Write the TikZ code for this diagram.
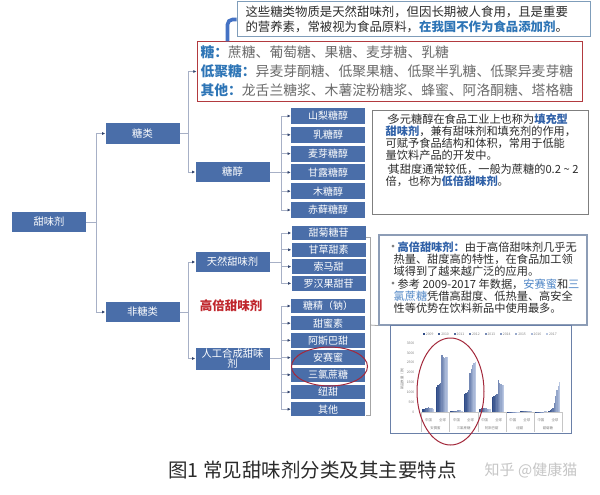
\documentclass[tikz,border=0pt]{standalone}
\usepackage{fontspec}
\setmainfont{Noto Sans CJK SC}
\usepackage{tikz}
\usetikzlibrary{arrows.meta}
\definecolor{boxBlue}{HTML}{4A6EA9}
\definecolor{lineGray}{HTML}{A7B0C6}
\definecolor{tipDark}{HTML}{33456D}
\definecolor{noteBlue}{HTML}{2E75B6}
\definecolor{hiBlue}{HTML}{3061A8}
\definecolor{softBlue}{HTML}{4F86C6}
\definecolor{frameRed}{HTML}{B23A3F}
\definecolor{ringRed}{HTML}{A3283B}
\definecolor{hotRed}{HTML}{C0272D}
\definecolor{txtGray}{HTML}{6A6A6A}
\definecolor{txtDark}{HTML}{2B2B2B}
\definecolor{noteFrame}{HTML}{7F9DBA}
\definecolor{factFrame}{HTML}{7F7F7F}
\definecolor{hintFrame}{HTML}{8D9DB6}
\definecolor{chartFrame}{HTML}{6A80A8}
\definecolor{arrowBlue}{HTML}{4472C4}
\definecolor{barDark}{HTML}{2E4A86}
\definecolor{barLight}{HTML}{CCD8EF}
\newcommand{\bul}[1]{\makebox[#1][l]{\textcolor{gray}{\fontsize{13}{12}\selectfont •}}}
\newcommand{\lab}[1]{\textcolor{noteBlue}{\bfseries #1}}
\newcommand{\hlb}[1]{\textcolor{hiBlue}{\bfseries #1}}

\begin{document}
\begin{tikzpicture}[x=1pt, y=-1pt,
		cat/.style={rectangle, fill=boxBlue, text=white, inner sep=0pt,
			minimum width=74pt, minimum height=20pt, font=\fontsize{10.3}{11}\selectfont},
		item/.style={rectangle, fill=boxBlue, text=white, inner sep=0pt,
			minimum width=74pt, minimum height=16pt, font=\fontsize{10}{11}\selectfont},
		slim/.style={item, minimum height=14.5pt},
		link/.style={draw=lineGray, line width=0.9pt},
		tip/.style={link, -{Latex[length=3.2pt, width=3pt, color=tipDark]}},
		brk/.style={draw=gray!70, line width=0.8pt},
		ring/.style={draw=ringRed, line width=1pt},
		tiny/.style={font=\fontsize{3.4}{4}\selectfont, text=gray, inner sep=0.5pt}]
		\fill[white] (0,0) rectangle (600,495);
		\useasboundingbox (0,0) rectangle (600,495);
		%-------------------------------------------------------------------------------
		% notes on top
		%-------------------------------------------------------------------------------
		\node[draw=noteFrame, line width=1pt, fill=white, minimum width=353pt, minimum height=35pt,
			inner sep=0pt, text width=336pt, align=left, text=txtDark,
			font=\fontsize{12.4}{15.5}\selectfont] (note) at (413.5,19.5)
			{这些糖类物质是天然甜味剂，但因长期被人食用，且是重要\\的营养素，常被视为食品原料，\textcolor{noteBlue}{\bfseries 在我国不作为食品添加剂}。};
		\node[draw=frameRed, line width=1pt, fill=white, minimum width=385pt, minimum height=59pt,
			inner sep=0pt, text width=378pt, align=left, text=txtGray,
			font=\fontsize{13.8}{19}\selectfont] (sugar) at (389.5,71.5)
			{\lab{糖：}蔗糖、葡萄糖、果糖、麦芽糖、乳糖\\
			\lab{低聚糖：}异麦芽酮糖、低聚果糖、低聚半乳糖、低聚异麦芽糖\\
			\lab{其他：}龙舌兰糖浆、木薯淀粉糖浆、蜂蜜、阿洛酮糖、塔格糖};
		\draw[line width=3.6pt, arrowBlue, rounded corners=5pt] ([xshift=31pt]sugar.north west) |- (note.west);
		
		% main tree
		\node[cat] (root) at (49,222) {甜味剂};
		\node[cat, minimum height=21pt] (sug) at (142.5,133.5) {糖类};
		\node[cat] (nonsug) at (142.5,312) {非糖类};
		\node[cat] (alc) at (232.5,172) {糖醇};
		\node[cat] (nat) at (232.5,262) {天然甜味剂};
		\node[cat, minimum height=22pt, align=center, font=\fontsize{10.3}{10.6}\selectfont] (art) at (232.5,358.5) {人工合成甜味\\剂};
		\node[text=hotRed, font=\bfseries\fontsize{12.5}{14}\selectfont] (high) at (231,306) {高倍甜味剂};
		
		% sugar alcohols
		\node[item] (a1) at (328,116) {山梨糖醇};
		\node[item] (a2) at (328,134.8) {乳糖醇};
		\node[item] (a3) at (328,153.6) {麦芽糖醇};
		\node[item] (a4) at (328,172.4) {甘露糖醇};
		\node[item] (a5) at (328,191.2) {木糖醇};
		\node[item] (a6) at (328,210) {赤藓糖醇};
		% natural
		\node[slim] (n1) at (328.5,233) {甜菊糖苷};
		\node[slim] (n2) at (328.5,249.8) {甘草甜素};
		\node[slim] (n3) at (328.5,266.6) {索马甜};
		\node[slim] (n4) at (328.5,283.4) {罗汉果甜苷};
		% artificial
		\node[slim] (r1) at (328,306) {糖精（钠）};
		\node[slim] (r2) at (328,323.2) {甜蜜素};
		\node[slim] (r3) at (328,340.4) {阿斯巴甜};
		\node[slim] (r4) at (328,357.6) {安赛蜜};
		\node[slim] (r5) at (328,374.8) {三氯蔗糖};
		\node[slim] (r6) at (328,392) {纽甜};
		\node[slim] (r7) at (328,409.2) {其他};
		
		% junctions
		\coordinate (j1) at (96,222);
		\coordinate (j2) at (188,133.5);
		\coordinate (j3) at (281,172);
		\coordinate (j4) at (188,312);
		\coordinate (j5) at (281,262);
		\coordinate (j6) at (281,358.5);
		
		% connectors
		\draw[link] (root) -- (j1);
		\draw[tip] (j1) |- (sug);
		\draw[tip] (j1) |- (nonsug);
		\draw[link] (sug) -- (j2);
		\draw[tip] (j2) |- (sugar);
		\draw[tip] (j2) |- (alc);
		\draw[link] (nonsug) -- (j4);
		\draw[tip] (j4) |- (nat);
		\draw[tip] (j4) |- (art);
		\draw[link] (alc) -- (j3);
		\draw[tip] (j3) |- (a1);
		\draw[tip] (j3) |- (a2);
		\draw[tip] (j3) |- (a3);
		\draw[tip] (j3) |- (a4);
		\draw[tip] (j3) |- (a5);
		\draw[tip] (j3) |- (a6);
		\draw[link] (nat) -- (j5);
		\draw[tip] (j5) |- (n1);
		\draw[tip] (j5) |- (n2);
		\draw[tip] (j5) |- (n3);
		\draw[tip] (j5) |- (n4);
		\draw[link] (art) -- (j6);
		\draw[tip] (j6) |- (r1);
		\draw[tip] (j6) |- (r2);
		\draw[tip] (j6) |- (r3);
		\draw[tip] (j6) |- (r4);
		\draw[tip] (j6) |- (r5);
		\draw[tip] (j6) |- (r6);
		\draw[tip] (j6) |- (r7);
		
		%-------------------------------------------------------------------------------
		% text boxes
		%-------------------------------------------------------------------------------
		\node[draw=factFrame, line width=1pt, fill=white, minimum width=216pt, minimum height=104pt,
			inner sep=0pt] (fact) at (480,162) {};
		\node[anchor=north west, inner sep=0pt, align=left, text=txtDark,
			font=\fontsize{11.2}{11.9}\selectfont] (factText) at ([xshift=11pt,yshift=-4.4pt]fact.north west)
			{\bul{6pt}多元糖醇在食品工业上也称为\hlb{填充型}\\
			\hspace*{3pt}\hlb{甜味剂}，兼有甜味剂和填充剂的作用，\\
			\hspace*{3pt}可赋予食品结构和体积，常用于低能\\
			\hspace*{3pt}量饮料产品的开发中。\\[2.2pt]
			\bul{6pt}其甜度通常较低，一般为蔗糖的0.2 \textasciitilde{} 2\\
			\hspace*{3pt}倍，也称为\hlb{低倍甜味剂}。};
		\node[draw=hintFrame, line width=1.2pt, fill=white, minimum width=208pt, minimum height=90pt,
			inner sep=0pt] (hint) at (483,280) {};
		\node[anchor=north west, inner sep=0pt, align=left, text=txtDark,
			font=\fontsize{11.2}{12}\selectfont] (hintText) at ([xshift=8pt,yshift=-7.2pt]hint.north west)
			{\bul{11pt}\hlb{高倍甜味剂：}由于高倍甜味剂几乎无\\
			\hspace*{7pt}热量、甜度高的特性，在食品加工领\\
			\hspace*{7pt}域得到了越来越广泛的应用。\\[1pt]
			\bul{11pt}参考 2009-2017 年数据，\textcolor{softBlue}{安赛蜜}和\textcolor{softBlue}{三}\\
			\hspace*{7pt}\textcolor{softBlue}{氯蔗糖}凭借高甜度、低热量、高安全\\
			\hspace*{7pt}性等优势在饮料新品中使用最多。};
		
		% bracket
		\coordinate (bk) at (370,325);
		\draw[brk] (366,237) -| (370,415) -- (366,415);
		\draw[brk] (bk) -- (hint.south west);
		
		%-------------------------------------------------------------------------------
		% chart
		%-------------------------------------------------------------------------------
		\node[draw=chartFrame, line width=0.9pt, fill=white, minimum width=181pt, minimum height=108pt,
			inner sep=0pt] (chart) at (481,379) {};
		\foreach \i in {0,...,8}{
			\pgfmathtruncatemacro\p{100-11*\i}
			\pgfmathtruncatemacro\yr{2009+\i}
			\fill[barDark!\p!barLight] ({423+15.4*\i},333) rectangle ++(2,2);
			\node[tiny, anchor=west] at ({425.2+15.4*\i},334) {\yr};
		}
		\foreach \v in {0,500,...,3500}
			\node[tiny, anchor=east] at (415,{412-\v*0.019714}) {\v};
		\node[tiny, rotate=90] (ytitle) at (402,378) {新品数量（款）};
		\draw[gray!45, line width=0.4pt] (421.5,412) -- (562,412);
		\foreach \g/\nm/\cn/\gl in {
			0/安赛蜜/{150,170,190,210,230,220,200,180,160}/{1250,1350,1400,1450,2900,2800,2750,2780,2800},
			1/三氯蔗糖/{30,40,50,60,70,80,90,80,70}/{900,950,1000,1100,2000,2200,2400,2500,2550},
			2/阿斯巴甜/{150,170,180,190,200,180,170,160,150}/{750,800,850,900,1600,1450,1400,1380,1350},
			3/纽甜/{5,5,8,8,10,10,12,12,15}/{30,40,50,60,70,60,50,50,40},
			4/甜菊糖/{5,8,10,12,15,20,25,30,30}/{50,100,150,200,450,800,1100,1300,1500}}{
			\foreach \v [count=\i from 0] in \cn {
				\pgfmathtruncatemacro\p{100-11*\i}
				\fill[barDark!\p!barLight] ({421.5+28.1*\g+0.8+1.35*\i},412) rectangle ++(1.35,{-\v*0.019714});
			}
			\foreach \v [count=\i from 0] in \gl {
				\pgfmathtruncatemacro\p{100-11*\i}
				\fill[barDark!\p!barLight] ({421.5+28.1*\g+14.4+1.35*\i},412) rectangle ++(1.35,{-\v*0.019714});
			}
			\node[tiny] at ({421.5+28.1*\g+7},420) {中国};
			\node[tiny] at ({421.5+28.1*\g+21},420) {全球};
			\node[tiny] at ({421.5+28.1*\g+14},428) {\nm};
		}
		\foreach \g in {0,...,5}
			\draw[gray!45, line width=0.4pt] ({421.5+28.1*\g},412) -- ({421.5+28.1*\g},432);
		
		% red rings
		\draw[ring] (329.5,366.5) ellipse [x radius=38pt, y radius=19.5pt];
		\draw[ring] (450.5,391.5) ellipse [x radius=33.5pt, y radius=53.5pt];
		
		% caption
		\node[text=txtDark, font=\fontsize{19.5}{22}\selectfont] (caption) at (312.5,470) {图1 常见甜味剂分类及其主要特点};
		\node[text=gray!45, font=\fontsize{15}{17}\selectfont] (mark) at (531,470) {知乎 @健康猫};
\end{tikzpicture}
\end{document}
